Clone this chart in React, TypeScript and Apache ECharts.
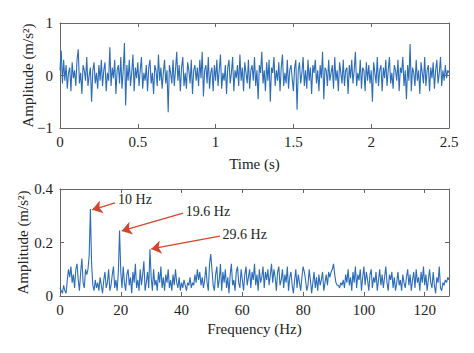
import React, { useEffect, useRef } from "react";
import * as echarts from "echarts";

// ---- Data ----
const timeStep = 2.5 / 320; // s
const timeValues: number[] = [
  0.1, 0.47, -0.15, 0.3, -0.1, 0.2, -0.25, 0.05, 0.15, -0.3, 0.25, -0.05, 0.1, -0.2, 0.3, 0.5, -0.15, 0.05, -0.35, 0.2, 0.1, -0.1, 0.35, -0.2, 0.0, 0.15, -0.5, 0.1, 0.25, -0.15, 0.05, -0.25,
  0.2, -0.1, 0.3, -0.2, 0.1, 0.25, -0.3, 0.05, -0.1, 0.54, -0.2, 0.15, -0.05, 0.3, -0.35, 0.1, 0.2, -0.15, 0.35, -0.25, 0.1, 0.62, -0.57, 0.2, -0.1, 0.3, -0.2, 0.05, 0.4, -0.3, 0.15, -0.05,
  0.25, -0.2, 0.1, 0.35, -0.25, 0.05, -0.1, 0.2, -0.3, 0.15, 0.3, -0.15, 0.05, -0.35, 0.2, 0.1, -0.2, 0.4, -0.1, 0.15, -0.25, 0.05, 0.3, -0.15, 0.1, -0.7, 0.2, 0.05, -0.15, 0.3, -0.2, 0.1,
  0.45, -0.1, 0.2, -0.3, 0.15, 0.35, -0.2, 0.05, -0.25, 0.25, 0.1, -0.15, 0.3, -0.35, 0.1, 0.2, -0.1, 0.15, -0.2, 0.3, -0.05, 0.45, -0.4, 0.1, 0.2, -0.15, 0.35, -0.25, 0.05, 0.15, -0.3, 0.2,
  -0.1, 0.3, -0.2, 0.1, 0.4, -0.25, 0.05, -0.1, 0.2, -0.35, 0.15, 0.3, -0.15, 0.05, 0.35, -0.3, 0.1, -0.05, 0.2, -0.2, 0.4, -0.1, 0.15, -0.3, 0.25, 0.05, -0.15, 0.3, -0.25, 0.1, 0.2, -0.1,
  0.35, -0.2, 0.1, -0.45, 0.2, 0.05, 0.45, -0.15, 0.1, -0.3, 0.25, -0.1, 0.3, -0.5, 0.15, 0.05, 0.35, -0.2, 0.1, -0.1, 0.25, -0.3, 0.15, 0.4, -0.2, 0.05, -0.15, 0.3, -0.25, 0.1, 0.2, -0.05,
  -0.3, 0.15, 0.3, -0.65, 0.1, 0.25, -0.15, 0.05, 0.35, -0.2, 0.1, -0.25, 0.3, -0.1, 0.15, -0.35, 0.2, 0.05, 0.3, -0.15, 0.1, -0.3, 0.2, -0.05, 0.45, -0.45, 0.15, 0.1, -0.2, 0.3, -0.1, 0.05,
  0.2, -0.25, 0.35, -0.1, 0.1, -0.3, 0.25, 0.05, -0.15, 0.3, -0.2, 0.1, 0.15, -0.35, 0.2, -0.05, 0.3, -0.15, 0.1, 0.45, -0.2, 0.05, -0.1, 0.3, -0.25, 0.15, 0.1, -0.3, 0.25, -0.1, 0.2, -0.15,
  0.1, -0.5, 0.25, 0.05, -0.15, 0.35, -0.2, 0.1, 0.2, -0.3, 0.15, -0.05, 0.3, -0.2, 0.1, 0.35, -0.15, 0.05, -0.25, 0.2, 0.1, -0.1, 0.3, -0.3, 0.15, 0.05, 0.35, -0.2, 0.1, -0.45, 0.2, -0.1,
  0.6, -0.3, 0.15, 0.05, -0.2, 0.3, -0.1, 0.1, -0.35, 0.25, 0.05, -0.15, 0.35, -0.2, 0.1, 0.2, -0.3, 0.15, -0.05, 0.25, -0.25, 0.1, 0.3, -0.15, 0.05, 0.35, -0.2, 0.1, -0.1, 0.2, -0.05, 0.1, 0.05,
];

const freqStep = 0.4; // Hz
const spectrumValues: number[] = [
  0.03, 0.02, 0.01, 0.04, 0.02, 0.01, 0.06, 0.1, 0.07, 0.11, 0.05, 0.08, 0.03, 0.1, 0.12, 0.06, 0.02, 0.09, 0.14, 0.05, 0.03, 0.1, 0.08, 0.1, 0.15,
  0.325, 0.12, 0.04, 0.02, 0.06, 0.03, 0.05, 0.02, 0.07, 0.04, 0.01, 0.06, 0.09, 0.03, 0.05, 0.1, 0.02, 0.04, 0.08, 0.11, 0.03, 0.06, 0.02, 0.09, 0.245,
  0.09, 0.03, 0.11, 0.05, 0.02, 0.08, 0.1, 0.04, 0.07, 0.01, 0.09, 0.05, 0.12, 0.03, 0.06, 0.02, 0.1, 0.04, 0.08, 0.13, 0.02, 0.05, 0.09, 0.03, 0.175,
  0.07, 0.02, 0.1, 0.04, 0.06, 0.02, 0.09, 0.05, 0.11, 0.03, 0.07, 0.02, 0.08, 0.05, 0.1, 0.03, 0.06, 0.02, 0.08, 0.04, 0.1, 0.05, 0.03, 0.07, 0.02,
  0.05, 0.03, 0.06, 0.04, 0.02, 0.05, 0.04, 0.07, 0.03, 0.05, 0.04, 0.08, 0.05, 0.1, 0.06, 0.09, 0.04, 0.07, 0.03, 0.06, 0.11, 0.05, 0.02, 0.12, 0.157,
  0.1, 0.04, 0.02, 0.08, 0.11, 0.03, 0.06, 0.12, 0.02, 0.09, 0.05, 0.1, 0.03, 0.07, 0.01, 0.08, 0.12, 0.04, 0.06, 0.02, 0.09, 0.11, 0.05, 0.03, 0.1,
  0.06, 0.02, 0.08, 0.11, 0.04, 0.07, 0.1, 0.03, 0.09, 0.06, 0.12, 0.04, 0.08, 0.02, 0.1, 0.05, 0.07, 0.11, 0.03, 0.09, 0.06, 0.1, 0.04, 0.08, 0.12,
  0.05, 0.1, 0.07, 0.02, 0.09, 0.11, 0.04, 0.06, 0.1, 0.03, 0.08, 0.05, 0.11, 0.02, 0.07, 0.09, 0.04, 0.01, 0.06, 0.1, 0.03, 0.08, 0.05, 0.02, 0.07,
  0.11, 0.09, 0.06, 0.02, 0.04, 0.1, 0.06, 0.01, 0.05, 0.09, 0.03, 0.07, 0.02, 0.08, 0.04, 0.06, 0.09, 0.02, 0.05, 0.08, 0.04, 0.09, 0.07, 0.09, 0.1,
  0.12, 0.08, 0.05, 0.04, 0.04, 0.03, 0.05, 0.04, 0.06, 0.03, 0.08, 0.05, 0.1, 0.04, 0.07, 0.02, 0.09, 0.05, 0.11, 0.03, 0.08, 0.06, 0.1, 0.02, 0.07,
  0.11, 0.04, 0.09, 0.06, 0.02, 0.08, 0.1, 0.03, 0.07, 0.05, 0.09, 0.02, 0.06, 0.1, 0.04, 0.08, 0.03, 0.07, 0.11, 0.05, 0.02, 0.08, 0.06, 0.09, 0.03,
  0.07, 0.02, 0.05, 0.09, 0.04, 0.06, 0.02, 0.08, 0.05, 0.03, 0.07, 0.1, 0.04, 0.08, 0.02, 0.06, 0.09, 0.03, 0.1, 0.05, 0.07, 0.02, 0.09, 0.05, 0.11,
  0.04, 0.08, 0.02, 0.06, 0.1, 0.05, 0.03, 0.09, 0.04, 0.01, 0.07, 0.05, 0.11, 0.03, 0.02, 0.05, 0.04, 0.06, 0.05, 0.07, 0.06,
];

// annotation: labels, arrow tails, arrow heads, label anchors (data units)
const peakLabels = ["10 Hz", "19.6 Hz", "29.6 Hz"];
const arrowTails: [number, number][] = [[18.1, 0.348], [40.5, 0.31], [52.6, 0.224]];
const arrowHeads: [number, number][] = [[10.6, 0.322], [20.3, 0.243], [30.0, 0.176]];
const labelAnchors: [number, number][] = [[18.6, 0.36], [40.9, 0.315], [53.0, 0.229]];

const timeAxis = { min: 0, max: 2.5, interval: 0.5 };
const timeAmpAxis = { min: -1, max: 1, interval: 1 };
const freqAxis = { min: 0, max: 128, interval: 20 };
const freqAmpAxis = { min: 0, max: 0.4, interval: 0.2 };

const FONT = "'Liberation Serif', 'DejaVu Serif', serif";
const AXIS_COLOR = "#666666";
const TEXT_COLOR = "#222222";
const LINE_COLOR = "#2C6DB8";
const ARROW_COLOR = "#D4462C";

export default function App() {
  const ref = useRef<HTMLDivElement>(null);

  useEffect(() => {
    if (!ref.current) return;
    const chart = echarts.init(ref.current, undefined, { renderer: "svg" });

    const timeData = timeValues.map((v, i) => [i * timeStep, v]);
    const specData = spectrumValues.map((v, i) => [+(i * freqStep).toFixed(2), v]);

    const labelStyle = { fontFamily: FONT, fontSize: 15, color: TEXT_COLOR };
    const minusFmt = (v: number) => String(v).replace("-", "\u2212");

    const axisCommon = {
      axisLine: { show: true, onZero: false, lineStyle: { color: AXIS_COLOR, width: 1 } },
      axisTick: { show: true, inside: true, length: 4, lineStyle: { color: AXIS_COLOR } },
      splitLine: { show: false },
    };

    const mainX = (gridIndex: number, ax: any, name: string, nameGap: number, extra: any = {}) => ({
      type: "value",
      gridIndex,
      ...ax,
      name,
      nameLocation: "middle",
      nameGap,
      nameMoveOverlap: false,
      nameTextStyle: { ...labelStyle },
      ...axisCommon,
      axisLabel: { ...labelStyle, margin: 6, formatter: minusFmt, ...extra },
    });
    const mainY = (gridIndex: number, ax: any, name: string, nameGap: number) => ({
      type: "value",
      gridIndex,
      ...ax,
      name,
      nameLocation: "middle",
      nameGap,
      nameMoveOverlap: false,
      nameTextStyle: { ...labelStyle },
      ...axisCommon,
      axisLabel: { ...labelStyle, margin: 7, formatter: minusFmt },
    });
    const mirror = (gridIndex: number, ax: any, position: string) => ({
      type: "value",
      gridIndex,
      ...ax,
      position,
      ...axisCommon,
      axisLabel: { show: false },
    });

    const option: any = {
      animation: false,
      backgroundColor: "#ffffff",
      grid: [
        { left: 60, right: 25, top: 23, height: 105 },
        { left: 60, right: 25, top: 189, height: 107 },
      ],
      xAxis: [
        mainX(0, timeAxis, "Time (s)", 28),
        mirror(0, timeAxis, "top"),
        mainX(1, freqAxis, "Frequency (Hz)", 25, { showMaxLabel: false }),
        mirror(1, freqAxis, "top"),
      ],
      yAxis: [
        mainY(0, timeAmpAxis, "Amplitude (m/s\u00B2)", 25),
        mirror(0, timeAmpAxis, "right"),
        mainY(1, freqAmpAxis, "Amplitude (m/s\u00B2)", 30),
        mirror(1, freqAmpAxis, "right"),
      ],
      series: [
        {
          type: "line",
          xAxisIndex: 0,
          yAxisIndex: 0,
          data: timeData,
          showSymbol: false,
          symbol: "none",
          lineStyle: { color: LINE_COLOR, width: 1.1 },
          silent: true,
        },
        {
          type: "line",
          xAxisIndex: 2,
          yAxisIndex: 2,
          data: specData,
          showSymbol: false,
          symbol: "none",
          lineStyle: { color: LINE_COLOR, width: 1.1 },
          silent: true,
          markLine: {
            silent: true,
            symbol: ["none", "arrow"],
            symbolSize: 10,
            label: { show: false },
            lineStyle: { color: ARROW_COLOR, width: 1.3, type: "solid" },
            emphasis: { disabled: true },
            data: arrowTails.map((t, i) => [{ coord: t }, { coord: arrowHeads[i] }]),
          },
          markPoint: {
            silent: true,
            symbol: "circle",
            symbolSize: 1,
            itemStyle: { color: "rgba(0,0,0,0)" },
            label: {
              show: true,
              position: "right",
              distance: 1,
              ...labelStyle,
              fontSize: 14,
              formatter: (p: any) => p.name,
            },
            data: labelAnchors.map((c, i) => ({ name: peakLabels[i], coord: c })),
          },
        },
      ],
    };

    chart.setOption(option);
    return () => chart.dispose();
  }, []);

  return (
    <div
      ref={ref}
      style={{ position: "absolute", left: 0, top: 0, width: 474, height: 353 }}
    />
  );
}
